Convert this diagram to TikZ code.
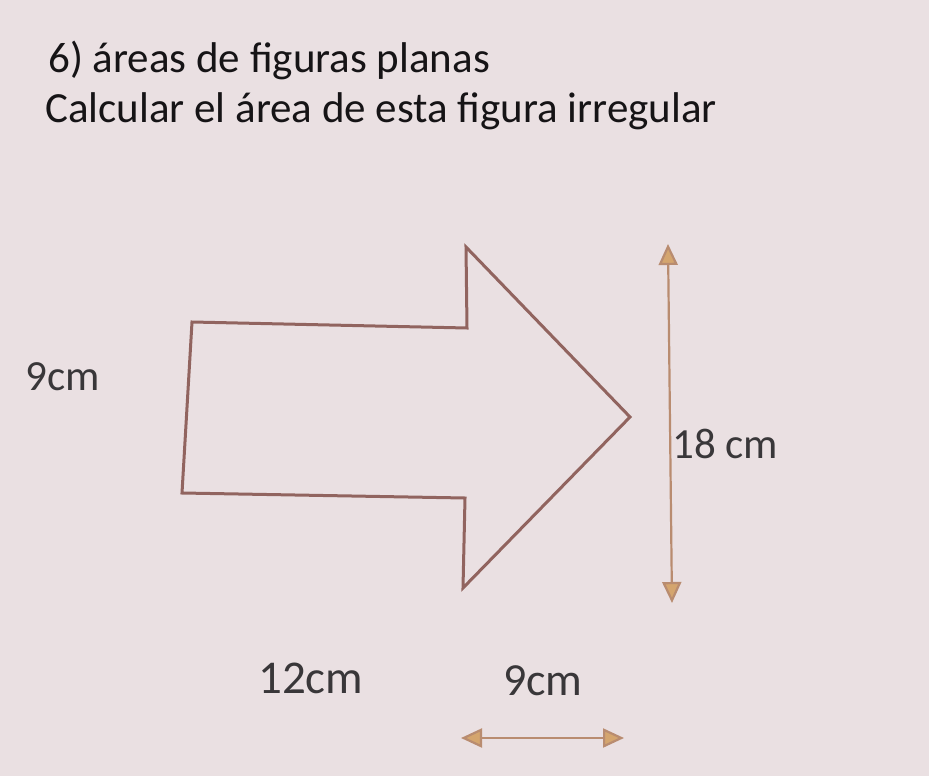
\documentclass[tikz,border=0pt]{standalone}
\usepackage{fontspec}
\setmainfont{Carlito}
\usetikzlibrary{arrows.meta}
\definecolor{paper}{RGB}{234,224,226}
\definecolor{shapeline}{RGB}{145,100,95}
\definecolor{dimline}{RGB}{185,140,112}
\definecolor{dimhead}{RGB}{212,165,110}
\definecolor{ink}{RGB}{22,20,22}
\tikzset{
  title/.style={anchor=base west, inner sep=0pt, font=\fontsize{43}{50}\selectfont, text=ink},
  lbl/.style={anchor=base west, inner sep=0pt, font=\fontsize{43}{50}\selectfont, text=ink!85},
  outline/.style={draw=shapeline, line width=3pt, line join=miter},
  dimarrow/.style={draw=dimline, line width=2.2pt, {Triangle[length=21pt,width=19pt,fill=dimhead]}-{Triangle[length=21pt,width=19pt,fill=dimhead]}}
}
\begin{document}
\begin{tikzpicture}[x=1pt,y=-1pt]
\fill[paper] (0,0) rectangle (929,776);
\useasboundingbox (0,0) rectangle (929,776);
\node[title] (t1) at (48,73) {6) áreas de figuras planas};
\node[title] (t2) at (45,122) {Calcular el área de esta figura irregular};
% arrow-shaped figure
\coordinate (A) at (192,322);
\coordinate (B) at (467,328);
\coordinate (C) at (466,247);
\coordinate (D) at (630,417);
\coordinate (E) at (463,588);
\coordinate (F) at (465,498);
\coordinate (G) at (182,493);
\draw[outline] (A) -- (B) -- (C) -- (D) -- (E) -- (F) -- (G) -- cycle;
% dimension arrows
\coordinate (v1) at (668,244);
\coordinate (v2) at (672,603);
\draw[dimarrow] (v1) -- (v2);
\coordinate (h1) at (461,738);
\coordinate (h2) at (624,738);
\draw[dimarrow] (h1) -- (h2);
% labels
\node[lbl] (l9a) at (25,390) {9cm};
\node[lbl] (l18) at (672,458) {18 cm};
\node[lbl, font=\fontsize{47}{50}\selectfont] (l12) at (258,693) {12cm};
\node[lbl, font=\fontsize{46}{50}\selectfont] (l9b) at (503,695) {9cm};
\end{tikzpicture}
\end{document}
